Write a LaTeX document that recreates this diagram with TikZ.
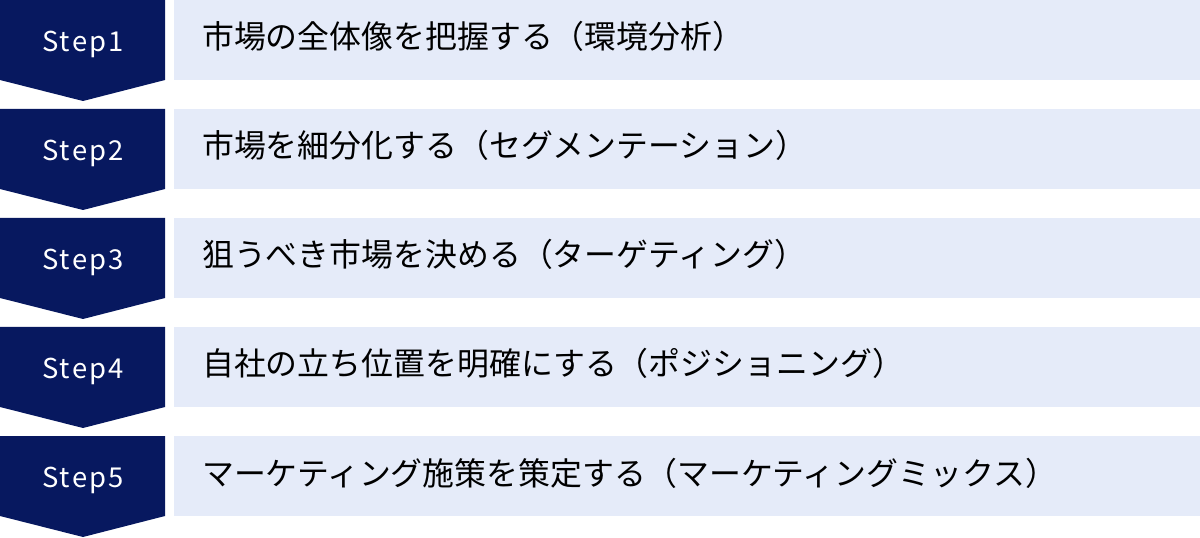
\documentclass[tikz,border=0pt]{standalone}
\usepackage{fontspec}
\newfontfamily\jpfont{Noto Sans CJK JP}
\newfontfamily\stepfont[LetterSpace=8]{Noto Sans CJK JP}
\definecolor{stepnavy}{HTML}{07185F}
\definecolor{rowblue}{HTML}{E5EBF9}
\tikzset{
  steplabel/.style={anchor=base,inner sep=0pt,text=white,font=\stepfont\fontsize{27.5}{32}\selectfont},
  rowtext/.style={anchor=base west,inner sep=0pt,text=black,font=\jpfont\fontsize{32}{38}\selectfont}
}

\begin{document}
\begin{tikzpicture}[x=1bp,y=-1bp]
    \useasboundingbox (0,0) rectangle (1200,538);
    \foreach \i/\task in {1/市場の全体像を把握する（環境分析）,
                          2/市場を細分化する（セグメンテーション）,
                          3/狙うべき市場を決める（ターゲティング）,
                          4/自社の立ち位置を明確にする（ポジショニング）,
                          5/マーケティング施策を策定する（マーケティングミックス）}{
        \pgfmathsetmacro\rowtop{109*(\i-1)}
        \fill[stepnavy] (0,\rowtop) -- (165,\rowtop) -- (165,\rowtop+80)
            -- (83,\rowtop+101) -- (0,\rowtop+80) -- cycle;
        \fill[rowblue] (174,\rowtop) rectangle (1200,\rowtop+80);
        \node[steplabel] (step\i) at (83,\rowtop+51.5) {Step\i};
        \node[rowtext] (task\i) at (202,\rowtop+49) {\task};
    }
\end{tikzpicture}
\end{document}
